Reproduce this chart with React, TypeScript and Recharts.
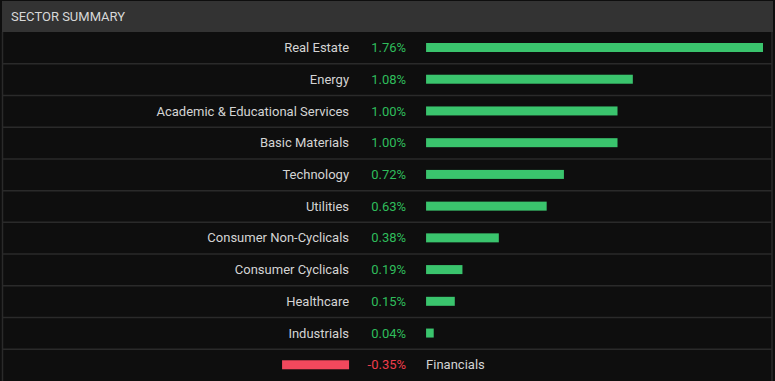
import React from 'react';
import { BarChart, Bar, XAxis, YAxis, CartesianGrid } from 'recharts';

const sectors = [
  'Real Estate',
  'Energy',
  'Academic & Educational Services',
  'Basic Materials',
  'Technology',
  'Utilities',
  'Consumer Non-Cyclicals',
  'Consumer Cyclicals',
  'Healthcare',
  'Industrials',
  'Financials',
];
const changes = [1.76, 1.08, 1.0, 1.0, 0.72, 0.63, 0.38, 0.19, 0.15, 0.04, -0.35];

const chartData = sectors.map((name, i) => ({ name, change: changes[i] }));

const FONT = "Roboto, 'Noto Sans', Arial, sans-serif";
const GREEN_BAR = '#3ac46d';
const GREEN_TEXT = '#2fbd5c';
const RED_BAR = '#f2485d';
const RED_TEXT = '#ee3d4c';
const LABEL = '#d4d4d4';

// gap between the zero line and the right edge of the name column
const NAME_GAP = 77;
const PCT_GAP = 20;

const RowShape = (props: any) => {
  const { x, y, width, height, payload } = props;
  const value: number = payload.change;
  const left = Math.min(x, x + width);
  const w = Math.abs(width);
  const zero = value >= 0 ? left : left + w;
  const cy = y + height / 2;
  const pct = `${value.toFixed(2)}%`;

  if (value >= 0) {
    return (
      <g>
        <rect x={zero} y={y} width={w} height={height} fill={GREEN_BAR} />
        <text x={zero - NAME_GAP} y={cy} dy="0.35em" textAnchor="end" fill={LABEL} fontSize={13} fontFamily={FONT}>
          {payload.name}
        </text>
        <text x={zero - PCT_GAP} y={cy} dy="0.35em" textAnchor="end" fill={GREEN_TEXT} fontSize={13} fontFamily={FONT}>
          {pct}
        </text>
      </g>
    );
  }
  return (
    <g>
      <rect x={zero - NAME_GAP - w} y={y} width={w} height={height} fill={RED_BAR} />
      <text x={zero - PCT_GAP} y={cy} dy="0.35em" textAnchor="end" fill={RED_TEXT} fontSize={13} fontFamily={FONT}>
        {pct}
      </text>
      <text x={zero} y={cy} dy="0.35em" textAnchor="start" fill={LABEL} fontSize={13} fontFamily={FONT}>
        {payload.name}
      </text>
    </g>
  );
};

export default function App() {
  const rows = chartData.length;
  return (
    <div
      style={{
        position: 'absolute',
        top: 0,
        left: 0,
        width: 775,
        height: 381,
        background: '#0e0e0e',
        overflow: 'hidden',
      }}
    >
      <div
        style={{
          position: 'absolute',
          top: 1,
          left: 2,
          width: 771,
          height: 31,
          background: '#333333',
          color: '#d8d8d8',
          fontFamily: FONT,
          fontSize: 13,
          lineHeight: '31px',
          paddingLeft: 9,
          boxSizing: 'border-box',
        }}
      >
        SECTOR SUMMARY
      </div>
      <div style={{ position: 'absolute', top: 32, left: 0 }}>
        <BarChart
          width={775}
          height={349}
          data={chartData}
          layout="vertical"
          margin={{ top: 0, right: 3, bottom: 0, left: 3 }}
          barCategoryGap={0}
        >
          <CartesianGrid
            stroke="#2a2a2a"
            strokeWidth={1.5}
            horizontalCoordinatesGenerator={({ offset }: any) =>
              Array.from({ length: rows - 1 }, (_, i) => offset.top + ((i + 1) * offset.height) / rows)
            }
            verticalCoordinatesGenerator={({ offset }: any) => [offset.left - 0.5, offset.left + offset.width]}
          />
          <XAxis type="number" domain={[-2.21, 1.807]} hide allowDataOverflow />
          <YAxis type="category" dataKey="name" hide />
          <Bar dataKey="change" barSize={9} isAnimationActive={false} shape={RowShape} />
        </BarChart>
      </div>
    </div>
  );
}
